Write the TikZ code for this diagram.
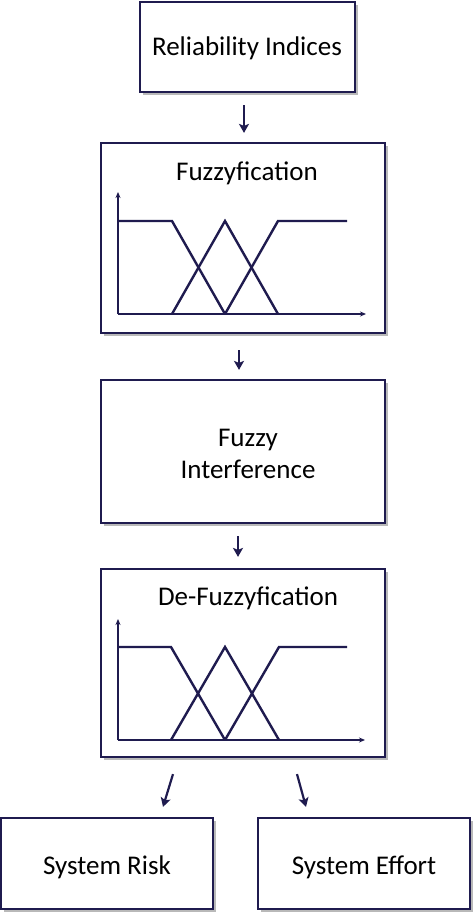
\documentclass[tikz,border=0pt]{standalone}
\usepackage{fontspec}
\setmainfont{Carlito}
\usetikzlibrary{shadows,arrows.meta}
\definecolor{navy}{HTML}{1F1B4F}
\begin{document}
\begin{tikzpicture}[x=1pt,y=-1pt,
  box/.style={draw=navy,line width=2.2pt,fill=white,inner sep=0pt,
    drop shadow={shadow xshift=3pt,shadow yshift=-3pt,fill=gray!55,opacity=1}},
  lbl/.style={font=\fontsize{27}{32}\selectfont,text=black,align=center},
  arr/.style={draw=navy,line width=2.2pt,-{Stealth[length=9pt,width=10pt,inset=2pt]}},
  curve/.style={draw=navy,line width=2.4pt},
  axis/.style={draw=navy,line width=1.8pt,-{Stealth[length=6pt,width=5pt]}}]
\useasboundingbox (0,0) rectangle (474,914);
\node[box,minimum width=215pt,minimum height=90pt] (b1) at (247.5,47) {};
\node[box,minimum width=284pt,minimum height=190pt] (b2) at (243,238) {};
\node[box,minimum width=284pt,minimum height=143pt] (b3) at (243,451.5) {};
\node[box,minimum width=284pt,minimum height=188pt] (b4) at (243,663) {};
\node[box,minimum width=212pt,minimum height=91pt] (b5) at (107,863.5) {};
\node[box,minimum width=212pt,minimum height=91pt] (b6) at (364,863.5) {};
% texts
\node[lbl] (t1) at (247,48) {Reliability Indices};
\node[lbl] (t2) at (247,173) {Fuzzyfication};
\node[lbl] (t3) at (248,454) {Fuzzy\\Interference};
\node[lbl] (t4) at (248,598) {De-Fuzzyfication};
\node[lbl] (t5) at (107,867) {System Risk};
\node[lbl] (t6) at (364,867) {System Effort};
% arrows
\draw[arr] ([xshift=-3.5pt,yshift=-12pt]b1.south) -- ([xshift=1pt,yshift=9pt]b2.north);
\draw[arr] ([xshift=-4pt,yshift=-16pt]b2.south) -- ([xshift=-4pt,yshift=9pt]b3.north);
\draw[arr] ([xshift=-5pt,yshift=-12pt]b3.south) -- ([xshift=-5pt,yshift=11pt]b4.north);
\draw[arr] ([xshift=-70pt,yshift=-16pt]b4.south) -- ([xshift=56pt,yshift=10pt]b5.north);
\draw[arr] ([xshift=54pt,yshift=-16pt]b4.south) -- ([xshift=-58pt,yshift=10pt]b6.north);
% chart 1
\draw[axis] (118,314) -- (118,192);
\draw[axis] (118,314) -- (366,314);
\draw[curve] (118,221) -- (172,221) -- (225,314);
\draw[curve] (172,314) -- (225,221) -- (278,314);
\draw[curve] (225,314) -- (278,221) -- (347,221);
% chart 2
\draw[axis] (118,740) -- (118,619);
\draw[axis] (118,740) -- (365,740);
\draw[curve] (118,647) -- (171,647) -- (225,740);
\draw[curve] (171,740) -- (225,647) -- (279,740);
\draw[curve] (225,740) -- (279,647) -- (347,647);
\end{tikzpicture}
\end{document}
